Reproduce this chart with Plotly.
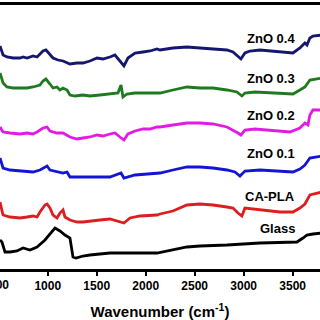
import plotly.graph_objects as go

# Wavenumber (cm^-1) and relative intensity (arbitrary, offset) for each sample
wn_zno04 = [513, 544, 584, 646, 717, 748, 789, 819, 850, 891, 921, 952, 982, 1023, 1054, 1105, 1156, 1227, 1299, 1360,
            1431, 1503, 1564, 1635, 1686, 1737, 1778, 1819, 1891, 1972, 2044, 2115, 2146, 2278, 2421, 2554, 2687, 2829,
            2891, 2942, 2972, 3013, 3064, 3166, 3268, 3401, 3503, 3574, 3625, 3646, 3676, 3707, 3800]
int_zno04 = [223, 214, 212, 211, 211, 212, 211, 212, 213, 212, 215, 218, 219, 215, 211, 209, 208, 205, 206, 206,
             208, 211, 210, 212, 214, 208, 203, 211, 216, 217, 218, 220, 219, 221, 222, 221, 220, 219,
             217, 212, 210, 216, 218, 219, 218, 217, 216, 221, 226, 224, 231, 233, 234]

wn_zno03 = [513, 544, 584, 646, 717, 789, 850, 921, 952, 982, 1023, 1054, 1095, 1125, 1156, 1197, 1227, 1278, 1360, 1431,
            1533, 1635, 1717, 1748, 1768, 1809, 1891, 2044, 2146, 2278, 2421, 2554, 2687, 2829, 2931, 2982, 3013, 3115,
            3268, 3503, 3574, 3625, 3676, 3800]
int_zno03 = [196, 186, 182, 181, 181, 181, 182, 184, 188, 190, 185, 181, 182, 179, 181, 179, 174, 173, 174, 173,
             174, 175, 176, 184, 172, 175, 176, 176, 176, 179, 182, 181, 181, 179, 177, 173, 176, 177,
             176, 175, 179, 182, 189, 191]

wn_zno02 = [513, 544, 615, 717, 789, 850, 891, 952, 993, 1023, 1095, 1156, 1227, 1299, 1360, 1431, 1503, 1564, 1635, 1686,
            1737, 1778, 1819, 1891, 1972, 2044, 2115, 2146, 2278, 2421, 2554, 2687, 2829, 2891, 2942, 2972, 3013, 3115,
            3268, 3472, 3574, 3625, 3656, 3676, 3707, 3800]
int_zno02 = [142, 137, 136, 135, 136, 135, 137, 141, 142, 138, 136, 136, 132, 130, 131, 132, 134, 133, 135, 136,
             132, 129, 135, 138, 140, 140, 142, 142, 144, 146, 146, 145, 142, 139, 136, 134, 139, 140,
             139, 137, 141, 146, 144, 154, 159, 159]

wn_zno01 = [513, 544, 615, 717, 789, 850, 921, 972, 993, 1023, 1095, 1156, 1197, 1227, 1299, 1431, 1635, 1748, 1778, 1891,
            2115, 2146, 2278, 2421, 2554, 2687, 2829, 2911, 2962, 3013, 3166, 3401, 3503, 3574, 3625, 3676, 3800]
int_zno01 = [111, 101, 99, 98, 98, 97, 99, 102, 103, 99, 97, 96, 97, 92, 92, 92, 92, 96, 91, 94,
             96, 96, 99, 102, 102, 101, 99, 97, 93, 98, 99, 98, 97, 100, 104, 111, 113]

wn_capla = [513, 544, 615, 717, 789, 850, 891, 921, 972, 993, 1023, 1054, 1095, 1125, 1156, 1176, 1227, 1299, 1360, 1431,
            1533, 1635, 1707, 1778, 1840, 1942, 2115, 2146, 2278, 2421, 2554, 2687, 2829, 2891, 2942, 2982, 3013, 3166,
            3370, 3503, 3574, 3625, 3676, 3800]
int_capla = [67, 54, 52, 51, 52, 53, 52, 57, 64, 65, 61, 54, 51, 56, 59, 52, 49, 47, 47, 48,
             49, 50, 48, 46, 51, 53, 54, 55, 58, 64, 65, 64, 62, 61, 56, 53, 61, 59,
             57, 57, 61, 65, 74, 77]

wn_glass = [513, 533, 564, 615, 686, 748, 819, 891, 972, 1044, 1074, 1125, 1176, 1227, 1258, 1289, 1360, 1431, 1635, 2115,
            2278, 2421, 2554, 2829, 3166, 3401, 3544, 3605, 3646, 3707, 3800]
int_glass = [29, 27, 17, 17, 18, 21, 19, 22, 29, 37, 41, 38, 34, 31, 12, 11, 13, 14, 16, 16,
             19, 22, 23, 24, 26, 27, 27, 31, 34, 35, 36]

names = ["ZnO 0.4", "ZnO 0.3", "ZnO 0.2", "ZnO 0.1", "CA-PLA", "Glass"]
colors = ["#16166e", "#1e7a1e", "#e21be2", "#1414d4", "#dc1e1e", "#000000"]
label_y = [231, 191, 154, 116, 73, 41]

series = [(wn_zno04, int_zno04), (wn_zno03, int_zno03), (wn_zno02, int_zno02),
          (wn_zno01, int_zno01), (wn_capla, int_capla), (wn_glass, int_glass)]

X_RANGE = [513, 3779]
FONT = "Arial, Liberation Sans, sans-serif"

fig = go.Figure()
for (x, y), n, c in zip(series, names, colors):
    fig.add_trace(go.Scatter(x=x, y=y, mode="lines", name=n,
                             line=dict(color=c, width=2.8), showlegend=False))

for n, ly in zip(names, label_y):
    fig.add_annotation(x=3545, y=ly, xref="x", yref="y", text="<b>%s</b>" % n,
                       showarrow=False, xanchor="right", yanchor="middle",
                       font=dict(family=FONT, size=13, color="black"))

# partially visible 500 tick label at the left edge (outside the axis range)
fig.add_annotation(x=(500 - X_RANGE[0]) / (X_RANGE[1] - X_RANGE[0]), y=-0.062,
                   xref="paper", yref="paper", text="<b>500</b>",
                   showarrow=False, xanchor="center", yanchor="middle",
                   font=dict(family=FONT, size=12, color="black"))

fig.update_layout(
    width=320, height=320,
    margin=dict(l=0, r=0, t=5, b=51),
    paper_bgcolor="white", plot_bgcolor="white",
    font=dict(family=FONT, color="black"),
    xaxis=dict(range=X_RANGE, tickvals=[1000, 1500, 2000, 2500, 3000, 3500],
               ticktext=["<b>1000</b>", "<b>1500</b>", "<b>2000</b>", "<b>2500</b>", "<b>3000</b>", "<b>3500</b>"],
               tickfont=dict(family=FONT, size=12, color="black"),
               ticks="outside", ticklen=4, tickwidth=2, tickcolor="black",
               showline=True, linewidth=2.5, linecolor="black", mirror=True,
               showgrid=False, zeroline=False,
               title=dict(text="<b>Wavenumber (cm<sup>-1</sup>)</b>", standoff=16,
                          font=dict(family=FONT, size=15, color="black"))),
    yaxis=dict(range=[0, 264], visible=False, showgrid=False, zeroline=False),
)

fig.write_html("out.html")
